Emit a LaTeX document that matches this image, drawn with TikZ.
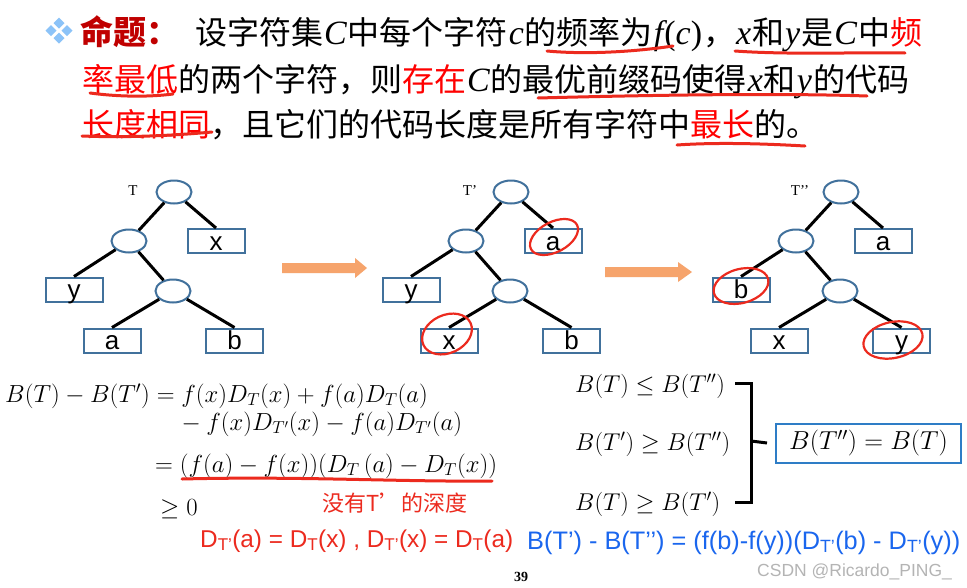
\RequirePackage{fix-cm}
\documentclass[tikz,border=0pt]{standalone}
\usepackage{fontspec}
\setmainfont{Liberation Sans}
\newfontfamily\cjk{Noto Sans CJK SC}
\newfontfamily\tms{Liberation Serif}
\usetikzlibrary{shapes.geometric}
\definecolor{boxblue}{HTML}{41719C}
\definecolor{darkred}{HTML}{C00000}
\definecolor{hlred}{HTML}{FF0000}
\definecolor{penred}{HTML}{EC2A1E}
\definecolor{penblue}{HTML}{1A66EE}
\definecolor{arrowc}{HTML}{F6A46C}
\definecolor{frameblue}{HTML}{2E7DC6}
\definecolor{bulletc}{HTML}{8CC3F8}
\definecolor{wmc}{HTML}{B4B4B4}
\newcommand\fsz[1]{\fontsize{#1}{#1}\selectfont}
\newcommand\li[1]{\hspace{1pt}{\tms\itshape\fsz{34}#1}\hspace{1pt}}
\tikzset{
  inode/.style={ellipse, draw=boxblue, line width=2pt, fill=white, minimum width=35pt, minimum height=23pt, inner sep=0pt},
  leaf/.style={rectangle, draw=boxblue, line width=2pt, fill=white, minimum width=57pt, minimum height=24pt, inner sep=0pt, text height=21pt, text depth=3pt, font=\fsz{26}},
  edge/.style={line width=3pt, black},
  tlabel/.style={font=\tms\fsz{15}, inner sep=0pt},
  hdr/.style={anchor=base west, inner sep=0pt, font=\cjk\fsz{32}},
  eq/.style={anchor=base west, inner sep=0pt, font=\fsz{24.7}},
  eqr/.style={anchor=base west, inner sep=0pt, font=\fsz{24.3}},
  pen/.style={draw=penred, line width=2.2pt, line cap=round},
  uline/.style={draw=penred, line width=3pt, line cap=round},
  bracestyle/.style={line width=3pt, black},
  blockarrow/.style={fill=arrowc},
  bul/.style={fill=bulletc}
}
\newcommand\mytree[7]{%
\begin{scope}[xshift=#1]
\node[inode] (#2r) at (174,192) {};
\node[inode] (#2l) at (129,241) {};
\node[leaf] (#2x) at (216,241) {#4};
\node[leaf] (#2y) at (74,289.5) {#5};
\node[inode] (#2e) at (173,291) {};
\node[leaf] (#2a) at (112,340.5) {#6};
\node[leaf] (#2b) at (234.5,340.5) {#7};
\node[tlabel] (#2t) at (133,191) {#3};
\draw[edge] (#2r) -- (#2l);
\draw[edge] (#2r) -- (#2x.north);
\draw[edge] (#2l) -- (#2y.north);
\draw[edge] (#2l) -- (#2e);
\draw[edge] (#2e) -- (#2a.north);
\draw[edge] (#2e) -- (#2b.north);
\end{scope}}
\begin{document}
\begin{tikzpicture}[x=1pt,y=-1pt]
\useasboundingbox (0,0) rectangle (967,587);
\fill[white] (0,0) rectangle (967,587);
% bullet
\fill[bul] (59,17.5) -- (64.5,23) -- (59,28.5) -- (53.5,23) -- cycle;
\fill[bul] (51,25) -- (56.5,30.5) -- (51,36) -- (45.5,30.5) -- cycle;
\fill[bul] (67,25) -- (72.5,30.5) -- (67,36) -- (61.5,30.5) -- cycle;
\fill[bul] (59,32.5) -- (64.5,38) -- (59,43.5) -- (53.5,38) -- cycle;
% header
\node[anchor=base west, inner sep=0pt, font=\cjk\bfseries\fsz{33}, text=darkred] (title) at (80,44) {命题：};
\node[hdr] (l1) at (195,44) {设字符集\li{C}中每个字符\li{c}的频率为\li{f\kern1pt{\upshape(}c{\upshape)}}，\li{x}和\li{y}是\li{C}中{\color{hlred}频}};
\node[hdr] (l2) at (82,91) {{\color{hlred}率最低}的两个字符，则{\color{hlred}存在}\li{C}的最优前缀码使得\li{x}和\li{y}的代码};
\node[hdr] (l3) at (82,136) {{\color{hlred}长度相同}，且它们的代码长度是所有字符中{\color{hlred}最长}的。};
\draw[uline] (547,51) .. controls (590,55) and (640,51) .. (673,46);
\draw[uline] (735,51) .. controls (790,55) and (860,52) .. (905,53);
\draw[uline] (90,93) .. controls (120,97) and (150,97) .. (173,94);
\draw[uline] (538,98) .. controls (650,95) and (780,93) .. (867,96);
\draw[uline] (82,136) .. controls (130,138) and (180,135) .. (212,132);
\draw[uline] (677,145) .. controls (720,142) and (770,144) .. (805,146);
% trees
\mytree{0}{t}{T}{x}{y}{a}{b}
\mytree{337}{p}{T’}{a}{y}{x}{b}
\mytree{667}{q}{T’’}{a}{b}{x}{y}
% block arrows
\fill[blockarrow] (282,263) -- (355,263) -- (355,258) -- (367,268) -- (355,278) -- (355,273) -- (282,273) -- cycle;
\fill[blockarrow] (605,267) -- (678,267) -- (678,262) -- (692,272) -- (678,282) -- (678,277) -- (605,277) -- cycle;
% hand-drawn circles
\draw[pen] (554,237) ellipse [x radius=26, y radius=15, rotate=28];
\draw[pen] (447,334) ellipse [x radius=26, y radius=19, rotate=25];
\draw[pen] (741,286) ellipse [x radius=28, y radius=17, rotate=15];
\draw[pen] (893,340) ellipse [x radius=30, y radius=18, rotate=12];
% equations left
\node[eq] (e1) at (5,402) {$B(T) - B(T') = f(x)D_T(x) + f(a)D_T(a)$};
\node[eq] (e2) at (176,430) {${}- f(x)D_{T'}(x) - f(a)D_{T'}(a)$};
\node[eq] (e3) at (155,472) {$= \bigl(f(a) - f(x)\bigr)\bigl(D_T\,(a) - D_T(x)\bigr)$};
\node[eq] (e4) at (160,515) {$\geq 0$};
\draw[uline] (182,479) .. controls (300,476) and (400,482) .. (492,481);
% handwritten red notes
\node[text=penred, font=\cjk\fsz{22}, inner sep=0pt] (note) at (395,503) {没有T’的深度};
\node[text=penred, anchor=base west, inner sep=0pt] (dd) at (200,547) {\resizebox{313pt}{!}{\fsz{28}D\textsubscript{T’}(a) = D\textsubscript{T}(x) , D\textsubscript{T’}(x) = D\textsubscript{T}(a)}};
% right block
\node[eqr] (r1) at (575,392) {$B(T) \le B(T'')$};
\node[eqr] (r2) at (575,450) {$B(T') \ge B(T'')$};
\node[eqr] (r3) at (575,510) {$B(T) \ge B(T')$};
\node[draw=frameblue, line width=2pt, minimum width=185pt, minimum height=39pt, inner sep=0pt, font=\fsz{26}] (res) at (868.5,443) {$B(T'') = B(T)$};
\coordinate (bt) at (735,383);
\coordinate (bb) at (735,502);
\coordinate (bm) at (751,441);
\draw[bracestyle] (bt) -- (751,383) -- (751,502) -- (bb);
\draw[bracestyle] (bm) -- ([xshift=-8pt]res.west);
% blue handwritten
\node[text=penblue, anchor=base west, inner sep=0pt] (blue) at (527,549) {\resizebox{433pt}{!}{\fsz{28}B(T’) - B(T’’) = (f(b)-f(y))(D\textsubscript{T’}(b) - D\textsubscript{T’}(y))}};
% page number and watermark
\node[font=\tms\bfseries\fsz{14}, anchor=base, inner sep=0pt] (pg) at (521,581) {39};
\node[font=\fsz{17.5}, text=wmc, anchor=base west, inner sep=0pt] (wm) at (757,576) {CSDN @Ricardo\_PING\_};
\end{tikzpicture}
\end{document}
